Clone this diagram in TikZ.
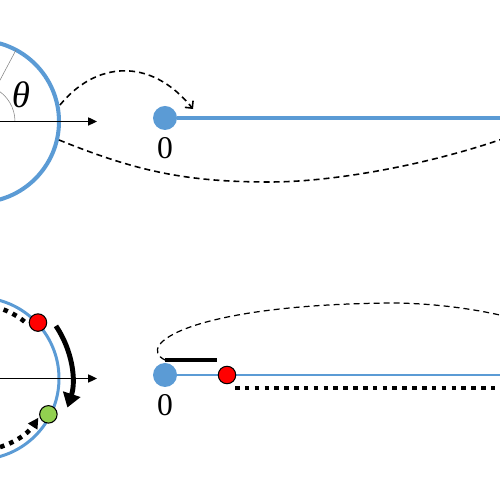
\documentclass[tikz,border=0pt]{standalone}
\usepackage{fontspec}
\setmainfont{Liberation Serif}
\usepackage{xcolor}
\usetikzlibrary{positioning,arrows.meta,calc}
\definecolor{ringblue}{RGB}{91,155,213}
\definecolor{dotred}{RGB}{255,0,0}
\definecolor{dotgreen}{RGB}{146,208,80}
\tikzset{
    origin/.style={circle, fill=ringblue, inner sep=0pt, minimum size=0.48cm},
    marker/.style={circle, draw=black, line width=0.6pt, inner sep=0pt, minimum size=0.35cm},
    axis/.style={line width=0.75pt, -{Triangle[length=5pt, width=4.6pt]}},
    jump/.style={line width=0.9pt, dash pattern=on 3.4pt off 2.3pt},
    trail/.style={line width=2.6pt, dash pattern=on 2.6pt off 3pt},
    zero label/.style={font=\fontsize{18}{21}\selectfont, inner sep=1pt}
}

\begin{document}
\begin{tikzpicture}
    \useasboundingbox (0,0) rectangle (10,10);
    \clip (0,0) rectangle (10,10);

    % upper panel: circle and angle
    \coordinate (c1) at (-0.44,7.57);
    \draw[ringblue, line width=2.3pt] (c1) circle (1.62);
    \draw[gray, line width=0.3pt] (c1) -- ++(62:1.62);
    \draw[gray, line width=0.3pt] ($(c1)+(0.74,0)$) arc[start angle=0, end angle=62, radius=0.74];
    \node[zero label, font=\fontsize{21}{24}\selectfont] (th) at (0.42,8.1) {\textit{θ}};
    \coordinate (ax1) at (1.94,7.57);
    \draw[axis] (c1) -- (ax1);

    % upper panel: half line
    \node[origin] (o1) at (3.3,7.64) {};
    \coordinate (e1) at (10.5,7.64);
    \draw[ringblue, line width=2pt] (o1) -- (e1);
    \node[zero label, below=0.1cm of o1] (z1) {0};

    % upper panel: mapping curves
    \coordinate (p1) at (1.2,7.9);
    \coordinate (q1) at (3.86,7.82);
    \draw[jump, -{Straight Barb[length=3pt, width=6pt]}] (p1) .. controls (1.9,8.76) and (3.0,8.88) .. (q1);
    \coordinate (p2) at (1.18,7.2);
    \coordinate (m2) at (5.4,6.36);
    \coordinate (q2) at (11,7.6);
    \draw[jump] (p2) to[out=-22, in=180] (m2) .. controls (7,6.36) and (9.5,6.9) .. (q2);

    % lower panel: circle with moving points
    \coordinate (c2) at (-0.44,2.43);
    \draw[ringblue, line width=1.7pt] (c2) circle (1.62);
    \coordinate (ax2) at (1.94,2.43);
    \draw[axis] (c2) -- (ax2);
    \draw[line width=2.8pt, -{Triangle[length=8pt, width=10pt]}] ($(c2)+(34:1.88)$) arc[start angle=34, end angle=-18, radius=1.88];
    \draw[trail] ($(c2)+(85:1.47)$) arc[start angle=85, end angle=49, radius=1.47];
    \draw[trail, -{Triangle[length=6pt, width=6pt]}] ($(c2)+(-80:1.44)$) arc[start angle=-80, end angle=-33, radius=1.44];
    \node[marker, fill=dotred] (r1) at ($(c2)+(43:1.64)$) {};
    \node[marker, fill=dotgreen] (g1) at ($(c2)+(-27:1.58)$) {};

    % lower panel: half line
    \node[origin] (o2) at (3.3,2.5) {};
    \coordinate (e3) at (10.5,2.5);
    \draw[ringblue, line width=1.7pt] (o2) -- (e3);
    \node[marker, fill=dotred] (r2) at (4.54,2.5) {};
    \node[zero label, below=0.1cm of o2] (z2) {0};
    \coordinate (barL) at (3.3,2.8);
    \coordinate (barR) at (4.34,2.8);
    \draw[line width=2.4pt] (barL) -- (barR);
    \coordinate (d1) at (4.7,2.24);
    \coordinate (d2) at (10.5,2.24);
    \draw[trail] (d1) -- (d2);
    \coordinate (q3) at (11.2,3.3);
    \draw[jump, line width=0.7pt] (barL) .. controls (2.7,3.1) and (3.8,3.9) .. (7.8,3.94) .. controls (9.0,3.94) and (10.4,3.7) .. (q3);

\end{tikzpicture}
\end{document}
